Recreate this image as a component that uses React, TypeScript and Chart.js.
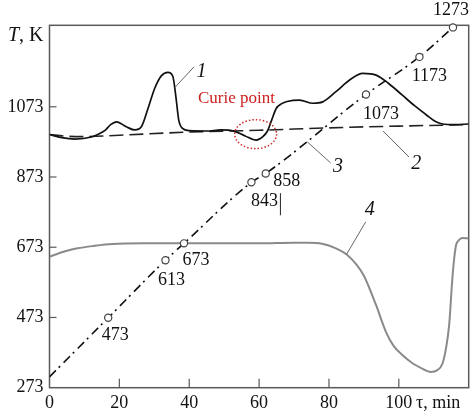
import React, { useEffect, useRef } from "react";
import { Chart, registerables } from "chart.js";
Chart.register(...registerables);

// ---- data (τ in min, T in K) ----
const curve1Tau = [0, 3.5, 7.3, 12, 14.4, 15.9, 17.5, 19.2, 22, 24.4, 26.3, 28.2, 30.1, 32, 33.9, 35.3, 36.2, 37, 38, 40, 45, 49, 53, 56, 59.2, 61, 62.4, 63.6, 64.9, 66.5, 68, 71.6, 75.4, 78.2, 82, 86, 89.7, 93.5, 97, 101, 104.5, 108, 110.5, 112.5, 116, 120];
const curve1T = [994, 985, 981, 987, 997, 1006, 1022, 1030, 1016, 1007, 1016, 1068, 1125, 1161, 1171, 1160, 1100, 1035, 1012, 1005, 1004, 1007, 1003, 990, 978, 987, 1004, 1035, 1068, 1082, 1088, 1092, 1083, 1087, 1116, 1150, 1168, 1163, 1140, 1106, 1076, 1049, 1031, 1024, 1022, 1024];

const curve2Tau = [0, 5, 10, 20, 40, 60, 80, 100, 120];
const curve2T = [994, 989, 988, 992, 1001, 1006, 1013, 1018, 1022];

const curve3Tau = [0, 16.8, 33.2, 38.5, 57.8, 61.9, 90.6, 105.9, 115.5];
const curve3T = [304, 472, 636, 684, 858, 883, 1108, 1215, 1299];

const markTau = [16.8, 33.2, 38.5, 57.8, 61.9, 90.6, 105.9, 115.5];
const markT = [472, 636, 684, 858, 883, 1108, 1215, 1299];
const markLabels = ["473", "613", "673", "843", "858", "1073", "1173", "1273"];

const curve4Tau = [0, 4, 8, 13, 18, 27, 40, 60, 70, 74, 78, 82, 85, 88, 90, 93.5, 96.3, 98.5, 101, 104, 106, 109.2, 111, 112.5, 113.5, 114.4, 115.4, 116.3, 117.2, 118.2, 120];
const curve4T = [646, 660, 670, 677, 682, 684, 684, 684, 686, 686, 683, 670, 653, 622, 592, 508, 432, 392, 366, 342, 331, 318, 323, 342, 385, 451, 594, 675, 693, 699, 698];

const xTickValues = [0, 20, 40, 60, 80, 100];
const yTickValues = [273, 473, 673, 873, 1073];

// label offsets for the circle marks (px)
const markLabelOffsets = [[7, 17], [6, 20], [12, 17], [13, 19], [21, 8], [15, 20], [10, 19], [-2, -17]];

const SERIF = '"Liberation Serif", "DejaVu Serif", serif';

const zip = (a: number[], b: number[]) => a.map((x, i) => ({ x, y: b[i] }));

export default function App() {
  const ref = useRef<HTMLCanvasElement>(null);
  useEffect(() => {
    const canvas = ref.current!;
    const decor = {
      id: "decor",
      beforeDatasetsDraw(chart: any) {
        const { ctx, chartArea: a, scales } = chart;
        const xs = scales.x, ys = scales.y;
        ctx.save();
        ctx.strokeStyle = "#5a5a5a";
        ctx.lineWidth = 1.5;
        ctx.strokeRect(a.left, a.top, a.right - a.left, a.bottom - a.top);
        ctx.lineWidth = 1.2;
        yTickValues.forEach((v) => {
          if (v === yTickValues[0]) return;
          const y = ys.getPixelForValue(v);
          ctx.beginPath(); ctx.moveTo(a.left, y); ctx.lineTo(a.left + 7, y); ctx.stroke();
        });
        xTickValues.forEach((v) => {
          if (v === xTickValues[0]) return;
          const x = xs.getPixelForValue(v);
          ctx.beginPath(); ctx.moveTo(x, a.bottom); ctx.lineTo(x, a.bottom - 9); ctx.stroke();
        });
        ctx.restore();
      },
      afterDatasetsDraw(chart: any) {
        const { ctx, chartArea: a, scales } = chart;
        const xs = scales.x, ys = scales.y;
        const P = (t: number, T: number) => [xs.getPixelForValue(t), ys.getPixelForValue(T)];
        ctx.save();
        // circle labels
        const meta = chart.getDatasetMeta(0);
        ctx.fillStyle = "#111";
        ctx.font = `18px ${SERIF}`;
        ctx.textAlign = "center";
        ctx.textBaseline = "middle";
        meta.data.forEach((pt: any, i: number) => {
          const [dx, dy] = markLabelOffsets[i];
          ctx.fillText(markLabels[i], pt.x + dx, pt.y + dy);
        });
        // small vertical bar after 843
        {
          const [x, y1] = P(66.1, 827);
          const [, y2] = P(66.1, 764);
          ctx.strokeStyle = "#222"; ctx.lineWidth = 1;
          ctx.beginPath(); ctx.moveTo(x, y1); ctx.lineTo(x, y2); ctx.stroke();
        }
        // leader lines
        ctx.strokeStyle = "#666"; ctx.lineWidth = 1;
        const leaders = [
          [41.4, 1187, 35.9, 1128],
          [102.9, 930, 95.5, 1004],
          [80.5, 913, 73.8, 973],
          [90.5, 745, 85, 652],
        ];
        leaders.forEach(([t1, T1, t2, T2]) => {
          const [x1, y1] = P(t1, T1); const [x2, y2] = P(t2, T2);
          ctx.beginPath(); ctx.moveTo(x1, y1); ctx.lineTo(x2, y2); ctx.stroke();
        });
        // curve numbers
        ctx.fillStyle = "#111";
        ctx.font = `italic 20px ${SERIF}`;
        const nums: [string, number, number][] = [["1", 43.5, 1172], ["2", 105, 912], ["3", 82.6, 902], ["4", 91.7, 779]];
        nums.forEach(([s, t, T]) => { const [x, y] = P(t, T); ctx.fillText(s, x, y); });
        // Curie point
        ctx.fillStyle = "#cc1f1f";
        ctx.font = `17px ${SERIF}`;
        { const [x, y] = P(53.5, 1097); ctx.fillText("Curie point", x, y); }
        {
          const [x, y] = P(59, 995);
          ctx.strokeStyle = "#d02a2a"; ctx.lineWidth = 1.5; ctx.setLineDash([1.5, 2]);
          ctx.beginPath(); ctx.ellipse(x, y, 21, 14.5, 0, 0, Math.PI * 2); ctx.stroke();
          ctx.setLineDash([]);
        }
        // axis titles
        ctx.fillStyle = "#111";
        ctx.textBaseline = "middle";
        ctx.textAlign = "right";
        ctx.font = `20px ${SERIF}`;
        const rest = ", K";
        const wRest = ctx.measureText(rest).width;
        const yTK = ys.getPixelForValue(1273) - 1;
        ctx.fillText(rest, a.left - 6, yTK);
        ctx.font = `italic 20px ${SERIF}`;
        ctx.fillText("T", a.left - 6 - wRest, yTK);
        ctx.textAlign = "left";
        ctx.font = `18px ${SERIF}`;
        ctx.fillText("τ, min", xs.getPixelForValue(104.9), a.bottom + 16);
        ctx.restore();
      },
    };

    const chart = new Chart(canvas, {
      type: "line",
      data: {
        datasets: [
          {
            label: "marks",
            data: zip(markTau, markT),
            showLine: false,
            pointRadius: 3.6,
            pointBackgroundColor: "#fff",
            pointBorderColor: "#444",
            pointBorderWidth: 1.2,
            clip: false as any,
          },
          {
            label: "1",
            data: zip(curve1Tau, curve1T),
            borderColor: "#111",
            borderWidth: 1.7,
            pointRadius: 0,
            cubicInterpolationMode: "monotone",
          },
          {
            label: "2",
            data: zip(curve2Tau, curve2T),
            borderColor: "#222",
            borderWidth: 1.6,
            borderDash: [14, 6],
            pointRadius: 0,
            cubicInterpolationMode: "monotone",
          },
          {
            label: "3",
            data: zip(curve3Tau, curve3T),
            borderColor: "#111",
            borderWidth: 1.6,
            borderDash: [9, 4, 2, 5],
            pointRadius: 0,
            cubicInterpolationMode: "monotone",
          },
          {
            label: "4",
            data: zip(curve4Tau, curve4T),
            borderColor: "#8a8a8a",
            borderWidth: 2,
            pointRadius: 0,
            cubicInterpolationMode: "monotone",
          },
        ],
      },
      options: {
        animation: false,
        responsive: false,
        events: [],
        layout: { padding: { top: 25.3, right: 5.3, left: 0, bottom: 0 } },
        plugins: { legend: { display: false }, tooltip: { enabled: false } },
        scales: {
          x: {
            type: "linear",
            min: 0,
            max: 120,
            grid: { display: false, drawTicks: false },
            border: { display: false },
            afterBuildTicks: (s: any) => { s.ticks = xTickValues.map((v) => ({ value: v })); },
            afterFit: (s: any) => { s.height = 27.3; },
            ticks: { color: "#111", font: { family: SERIF, size: 18 }, padding: 5, maxRotation: 0, autoSkip: false, callback: (v: any) => String(v) },
          },
          y: {
            type: "linear",
            min: 273,
            max: 1305,
            grid: { display: false, drawTicks: false },
            border: { display: false },
            afterBuildTicks: (s: any) => { s.ticks = yTickValues.map((v) => ({ value: v })); },
            afterFit: (s: any) => { s.width = 49.5; },
            ticks: { color: "#111", font: { family: SERIF, size: 18 }, padding: 6, autoSkip: false, callback: (v: any) => String(v) },
          },
        },
      },
      plugins: [decor],
    });
    return () => chart.destroy();
  }, []);
  return (
    <div style={{ position: "fixed", left: 0, top: 0, width: 474, height: 415, background: "#fff" }}>
      <canvas ref={ref} width={474} height={415} style={{ width: 474, height: 415, display: "block" }} />
    </div>
  );
}
